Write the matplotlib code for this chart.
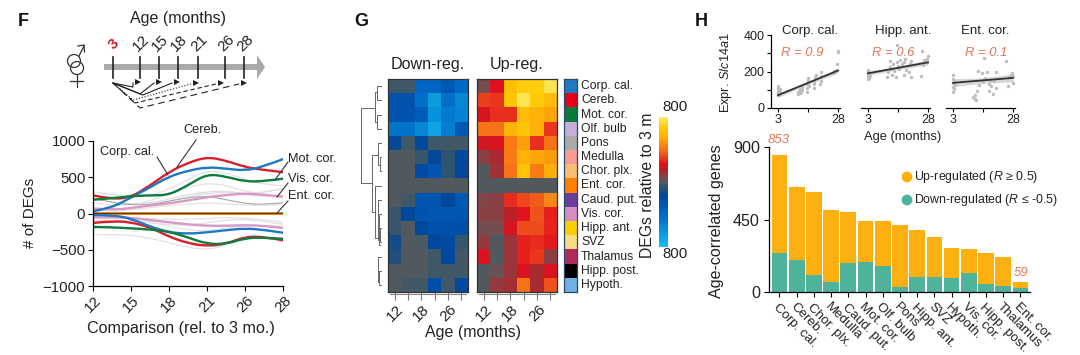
import numpy as np
import matplotlib
matplotlib.use('Agg')
import matplotlib.pyplot as plt
from matplotlib.colors import LinearSegmentedColormap, ListedColormap
from matplotlib.patches import Circle, Polygon, PathPatch
from matplotlib.path import Path

plt.rcParams['font.family'] = ['Liberation Sans', 'DejaVu Sans']
plt.rcParams['mathtext.fontset'] = 'custom'
plt.rcParams['mathtext.rm'] = 'Liberation Sans'
plt.rcParams['mathtext.it'] = 'Liberation Sans:italic'
plt.rcParams['axes.linewidth'] = 0.9

W, H = 1080, 355
TXT = '#222222'
ORANGE_TXT = '#e2755a'

# ---------- panel F data
comparisons = ['12', '15', '18', '21', '26', '28']
half_steps = [0, .5, 1, 1.5, 2, 2.5, 3, 3.5, 4, 4.5, 5]
cereb_up = [250, 195, 225, 385, 573, 700, 780, 730, 640, 600, 570]
corp_up = [30, 80, 220, 360, 510, 590, 640, 620, 590, 650, 750]
mot_up = [190, 210, 240, 250, 255, 390, 545, 510, 440, 445, 480]
vis_up = [70, 50, 75, 110, 140, 180, 225, 255, 275, 260, 230]
cereb_down = [-130, -105, -120, -190, -320, -410, -450, -420, -320, -320, -370]
corp_down = [-20, -20, -70, -180, -260, -280, -260, -230, -205, -225, -265]
mot_down = [-185, -190, -205, -220, -250, -330, -420, -420, -340, -330, -350]
vis_down = [-50, -50, -60, -90, -120, -150, -170, -170, -160, -170, -200]
ent_line = [0, 0, 0, 0, 0, 0, 0, 0, 0, 0, 0]
pale_lines = [
    [300, 260, 230, 250, 330, 470, 590, 560, 470, 400, 380],
    [150, 110, 120, 170, 280, 360, 420, 390, 300, 280, 350],
    [60, 40, 70, 120, 170, 230, 280, 290, 280, 290, 340],
    [210, 150, 130, 140, 200, 260, 300, 310, 270, 230, 260],
    [40, 30, 50, 80, 110, 130, 150, 130, 120, 110, 130],
    [-70, -60, -60, -70, -80, -80, -70, -60, -60, -90, -120],
    [-290, -290, -300, -340, -400, -470, -500, -440, -340, -320, -340],
    [-30, -30, -50, -110, -180, -230, -240, -200, -170, -160, -180],
    [-100, -90, -100, -130, -150, -160, -130, -90, -80, -110, -150],
]
pale_colors = ['#dde3e8', '#e6e0e8', '#e2dfdf', '#d9dde2', '#e8e2dc', '#e2e2e2', '#dfe3ea', '#e3e7e3', '#e6dde6']
pons_line = [210, 150, 120, 120, 170, 220, 240, 190, 140, 120, 150]

# ---------- panel G data
regions = ['Corp. cal.', 'Cereb.', 'Mot. cor.', 'Olf. bulb', 'Pons', 'Medulla', 'Chor. plx.', 'Ent. cor.',
           'Caud. put.', 'Vis. cor.', 'Hipp. ant.', 'SVZ', 'Thalamus', 'Hipp. post.', 'Hypoth.']
region_colors = ['#1f78c1', '#e2001a', '#0a7a3b', '#c5aed6', '#aaaaaa', '#fb9a92', '#fdbf6f', '#ff7f00',
                 '#6a3d9a', '#d48fc0', '#ffcc00', '#f5dc82', '#b02a5a', '#000000', '#6fb1e6']
down_reg = [
    [-30, -30, -380, -380, -300, -400],
    [-250, -250, -430, -650, -420, -550],
    [-260, -260, -320, -600, -480, -530],
    [-450, -450, -550, -680, -500, -300],
    [-150, -30, -180, -30, -30, -20],
    [0, 0, -40, -150, -60, -180],
    [0, 0, -200, -270, -60, -170],
    [0, 0, 0, 0, 0, 0],
    [0, -20, -280, -280, -170, -300],
    [-40, -170, -260, -280, -280, -270],
    [-40, 0, -170, -240, -240, -220],
    [-120, 0, -10, -170, -190, -50],
    [-90, 0, 0, -30, -170, -20],
    [0, 0, 0, -30, -20, -20],
    [0, -20, -20, -230, -20, -200],
]
up_reg = [
    [40, 220, 620, 680, 680, 770],
    [310, 290, 640, 780, 670, 610],
    [210, 280, 280, 600, 560, 520],
    [400, 400, 580, 640, 560, 290],
    [190, 210, 420, 510, 280, 400],
    [70, 130, 420, 560, 520, 500],
    [0, 110, 400, 640, 420, 550],
    [0, 0, 0, 0, 0, 0],
    [60, 70, 270, 320, 360, 450],
    [70, 70, 160, 230, 340, 250],
    [40, 40, 200, 330, 330, 260],
    [90, 0, 100, 250, 270, 240],
    [210, 0, 100, 250, 290, 80],
    [0, 30, 100, 210, 130, 210],
    [0, 90, 120, 400, 130, 340],
]
heat_labels = ['12', '', '18', '', '26', '']

# ---------- panel H data
panel_names = ['Corp. cal.', 'Hipp. ant.', 'Ent. cor.']
panel_r = ['R = 0.9', 'R = 0.6', 'R = 0.1']
corp_age = [3, 3, 3, 3, 3, 3, 3.5, 3.5, 4, 4, 11.5, 11.5, 12, 12, 12, 12.5, 13, 13, 15, 15, 15, 15.5, 15.5, 16, 18, 18, 18, 18.5, 19, 20.5, 21, 21, 21, 26, 26.5, 27, 27.5, 28, 28]
corp_expr = [70, 80, 90, 100, 110, 120, 75, 95, 85, 105, 75, 90, 80, 95, 105, 85, 100, 115, 90, 110, 130, 150, 165, 120, 110, 130, 150, 170, 180, 130, 150, 175, 200, 190, 205, 210, 240, 305, 310]
hipp_age = [3, 3, 3, 3, 3, 3.5, 3.5, 4, 11, 11.5, 12, 12, 12.5, 13, 13.5, 14, 14.5, 15, 15, 15.5, 16, 16.5, 17, 18, 18, 18.5, 19, 20, 20.5, 21, 21, 25, 25.5, 26, 26.5, 27, 27.5, 28]
hipp_expr = [160, 175, 190, 200, 210, 165, 185, 175, 170, 200, 225, 260, 215, 180, 240, 205, 170, 250, 345, 230, 215, 265, 240, 180, 250, 270, 210, 195, 240, 170, 260, 175, 310, 235, 265, 250, 270, 285]
ent_age = [3, 3, 3, 3, 3, 3.5, 3.5, 4, 11.5, 12, 12, 12.5, 13, 13.5, 14, 15, 15, 15.5, 16, 16.5, 17, 18, 18, 18.5, 19, 19.5, 20, 21, 21, 25, 26, 26.5, 27, 27.5, 28, 28]
ent_expr = [85, 115, 135, 160, 180, 105, 145, 125, 60, 50, 70, 45, 95, 205, 125, 190, 150, 145, 275, 165, 195, 130, 95, 155, 120, 75, 150, 110, 195, 260, 120, 170, 180, 190, 175, 135]
fit_age = [3, 28]
corp_fit = [70, 205]
hipp_fit = [190, 250]
ent_fit = [138, 165]
band_age = [3, 15.5, 28]
corp_band = [12, 8, 14]
hipp_band = [12, 9, 14]
ent_band = [22, 14, 22]

bar_names = ['Corp. cal.', 'Cereb.', 'Chor. plx.', 'Medulla', 'Caud. put.', 'Mot. cor.', 'Olf. bulb', 'Pons',
             'Hipp. ant.', 'SVZ', 'Hypoth.', 'Vis. cor.', 'Hipp. post.', 'Thalamus', 'Ent. cor.']
bar_total = [853, 650, 623, 511, 497, 441, 439, 416, 387, 342, 275, 265, 242, 215, 59]
bar_down = [242, 200, 103, 60, 180, 188, 161, 29, 95, 95, 87, 118, 50, 39, 27]


def px_axes(left, top, right, bottom):
    return fig.add_axes([left / W, 1 - bottom / H, (right - left) / W, (bottom - top) / H])


# curve through the read values, read values act as bezier control points
def curve(axis, xs, ys, color, lw):
    pts = np.column_stack([xs, ys])
    verts = [pts[0]]
    codes = [Path.MOVETO]
    for i in range(1, len(pts) - 1):
        end = pts[i + 1] if i == len(pts) - 2 else (pts[i] + pts[i + 1]) / 2
        verts += [pts[i], end]
        codes += [Path.CURVE3, Path.CURVE3]
    axis.add_patch(PathPatch(Path(verts, codes), fill=False, ec=color, lw=lw, capstyle='round'))


fig = plt.figure(figsize=(W / 100, H / 100), dpi=100)

# overlay in pixel coordinates for labels and the schematic
ov = fig.add_axes([0, 0, 1, 1], zorder=10)
ov.set_xlim(0, W)
ov.set_ylim(H, 0)
ov.axis('off')
ov.patch.set_alpha(0)

for letter, x, y in [('F', 23, 22), ('G', 361, 22), ('H', 701, 22)]:
    ov.text(x, y, letter, fontsize=13, fontweight='bold', ha='center', va='center', color='#111111')

# ---------- F schematic
ov.text(178, 19, 'Age (months)', fontsize=11.5, ha='center', va='center', color=TXT)
ov.add_patch(Polygon([(104, 64), (257, 64), (257, 55), (265, 67), (257, 79), (257, 70), (104, 70)],
                     closed=True, color='#aaaaaa', lw=0))
schema_x = [113, 140, 159, 178, 198, 225, 244]
schema_lab = ['3', '12', '15', '18', '21', '26', '28']
for i, (x, lab) in enumerate(zip(schema_x, schema_lab)):
    ov.plot([x, x], [57, 78], color='#222222', lw=1.2)
    if i == 0:
        ov.text(x + 1, 44, lab, fontsize=11, color='#c8202c', fontweight='bold', rotation=45,
                ha='center', va='center')
    else:
        ov.text(x + 1, 43, lab, fontsize=11, color=TXT, rotation=45, ha='center', va='center')

arrow_paths = [((133, 87), (138, 82), '-'), ((140, 94), (159, 82), '-'), ((143, 95), (177, 82), '-'),
               ((133, 100), (196, 83), ':'), ((135, 103), (221, 83), (0, (4, 2.5))), ((140, 108), (244, 83), (0, (6, 4)))]
for (ex, ey), (tx, ty), ls in arrow_paths:
    ov.plot([113, ex, tx - 5], [83, ey, ty + 1], color='#222222', lw=0.8, ls=ls)
    ov.plot([tx], [ty], marker='>', ms=4.5, color='#222222', mew=0)

ov.add_patch(Circle((74, 61), 6.5, fill=False, ec='#333333', lw=0.9))
ov.add_patch(Circle((77, 68), 6.5, fill=False, ec='#333333', lw=0.9))
ov.plot([79, 84], [56, 46], color='#333333', lw=0.9)
ov.plot([78, 84, 84.5], [46, 45, 52], color='#333333', lw=0.9)
ov.plot([76.5, 76.5], [75, 87], color='#333333', lw=0.9)
ov.plot([70, 83], [81, 81], color='#333333', lw=0.9)

# ---------- F lines
ax = px_axes(93, 141, 283, 286)
for vals, c in zip(pale_lines, pale_colors):
    curve(ax, half_steps, vals, c, 0.9)
curve(ax, half_steps, pons_line, '#a8a8a8', 0.8)
for vals, c, lw in [(vis_up, '#d79ac6', 1.7), (vis_down, '#d79ac6', 1.7), (ent_line, '#e07b10', 2.0),
                    (cereb_up, '#d7202a', 1.7), (corp_up, '#1f78c1', 1.7), (mot_up, '#117a3e', 1.7),
                    (cereb_down, '#d7202a', 1.7), (corp_down, '#1f78c1', 1.7), (mot_down, '#117a3e', 1.7)]:
    curve(ax, half_steps, vals, c, lw)
curve(ax, half_steps, ent_line, '#5a3a10', 0.7)
ax.set_xlim(0, 5)
ax.set_ylim(-1000, 1000)
ax.set_xticks(range(6))
ax.set_xticklabels(comparisons, rotation=45, fontsize=10.8, color=TXT, ha='center')
ax.set_yticks([-1000, -500, 0, 500, 1000])
ax.set_yticklabels(['\u22121000', '\u2212500', '0', '500', '1000'], fontsize=10.8, color=TXT)
ax.tick_params(length=3.5, width=0.8, pad=2)
ax.spines[['top', 'right']].set_visible(False)
ax.patch.set_alpha(0)

ov.text(181, 329, 'Comparison (rel. to 3 mo.)', fontsize=11.6, ha='center', va='center', color=TXT)
ov.text(30, 213, '# of DEGs', fontsize=11, rotation=90, ha='center', va='center', color=TXT)
ov.text(127.5, 152, 'Corp. cal.', fontsize=9.2, ha='center', va='center', color=TXT)
ov.text(203, 130, 'Cereb.', fontsize=9.2, ha='center', va='center', color=TXT)
for txt, y in [('Mot. cor.', 159), ('Vis. cor.', 179), ('Ent. cor.', 196)]:
    ov.text(288, y, txt, fontsize=9.2, ha='left', va='center', color=TXT)
for (x0, y0), (x1, y1) in [((157, 157), (168, 175)), ((196, 140), (177, 167)), ((288, 162), (275, 180)),
                           ((288, 183), (277, 197)), ((288, 201), (277, 213))]:
    ov.plot([x0, x1], [y0, y1], color='#333333', lw=0.8)

# ---------- G heatmaps
cmap = LinearSegmentedColormap.from_list('degs', [
    (0.00, '#20bdec'), (0.10, '#0a9be0'), (0.28, '#0060c0'), (0.40, '#00479a'), (0.47, '#34566e'),
    (0.50, '#4f5b60'), (0.53, '#7c4a4e'), (0.60, '#bb2026'), (0.64, '#e2101f'), (0.74, '#f56a1a'),
    (0.84, '#ffad08'), (0.92, '#ffcb08'), (1.00, '#ffea60')])

for vals, (l, r), title in [(down_reg, (388, 468), 'Down-reg.'), (up_reg, (477, 557), 'Up-reg.')]:
    hx = px_axes(l, 79, r, 292)
    hx.imshow(np.array(vals), cmap=cmap, vmin=-800, vmax=800, aspect='auto', interpolation='nearest')
    hx.set_xticks(range(6))
    hx.set_xticklabels(heat_labels, rotation=45, fontsize=11, color=TXT)
    hx.set_yticks([])
    hx.tick_params(length=6, width=0.8, color='#777777', pad=1)
    for s in hx.spines.values():
        s.set_color('#333333')
    ov.plot([l + 2, r - 2], [294, 294], color='#888888', lw=0.8)
    ov.text((l + r) / 2, 65, title, fontsize=11.6, ha='center', va='center', color=TXT)
ov.text(473, 333, 'Age (months)', fontsize=11.5, ha='center', va='center', color=TXT)

# dendrogram, drawn as brackets: x, y top, y bottom, x of top child, x of bottom child
row_y = [79 + 14.2 * (i + .5) for i in range(15)]
brackets = [
    (361, 107.7, 183.3, 375, 372),
    (375, 92, 122, 377, 377),
    (377, row_y[0], row_y[1], 381, 381),
    (377, row_y[2], row_y[3], 381, 381),
    (372, 155, 212, 378, 375),
    (378, row_y[4], 165, 381, 380),
    (380, row_y[5], row_y[6], 381, 381),
    (375, row_y[7], 238, 381, 378),
    (378, row_y[8], 240, 381, 379),
    (379, row_y[9], 245, 381, 380),
    (380, row_y[10], row_y[11], 381, 381),
    (378, row_y[12], 282, 381, 379),
    (379, row_y[13], row_y[14], 381, 381),
]
for x, y0, y1, xa, xb in brackets:
    ov.plot([xa, x, x, xb], [y0, y0, y1, y1], color='#666666', lw=0.7)

sw = px_axes(564, 79, 577, 292)
sw.imshow(np.arange(15).reshape(-1, 1), cmap=ListedColormap(region_colors), aspect='auto', interpolation='nearest')
sw.set_xticks([])
sw.set_yticks([])
for s in sw.spines.values():
    s.set_color('#2a4a6a')
for i, name in enumerate(regions):
    ov.text(581, row_y[i], name, fontsize=8.7, ha='left', va='center', color=TXT)

cb = px_axes(659, 117, 668, 247)
cb.imshow(np.linspace(800, -800, 256).reshape(-1, 1), cmap=cmap, vmin=-800, vmax=800, aspect='auto')
cb.axis('off')
ov.text(675, 107, '800', fontsize=10.8, ha='center', va='center', color=TXT)
ov.text(675, 254, '800', fontsize=10.8, ha='center', va='center', color=TXT)
ov.text(648, 185, 'DEGs relative to 3 m', fontsize=11.3, rotation=90, ha='center', va='center', color=TXT)

# ---------- H scatter
panels = [
    (778, corp_age, corp_expr, corp_fit, corp_band, 0),
    (868, hipp_age, hipp_expr, hipp_fit, hipp_band, 1),
    (953, ent_age, ent_expr, ent_fit, ent_band, 2),
]
for x3, ages, expr, fit, band, i in panels:
    sx = px_axes(x3 - 7, 35, x3 + 62, 108)
    sx.set_xlim(3 - 7 / 2.4, 3 + 62 / 2.4)
    sx.set_ylim(0, 400)
    sx.scatter(ages, expr, s=6, color='#bdbdbd', lw=0, zorder=2)
    fit_mid = (fit[0] + fit[1]) / 2
    band_fit = [fit[0], fit_mid, fit[1]]
    sx.fill_between(band_age, np.array(band_fit) - band, np.array(band_fit) + band,
                    color='#bbbbbb', alpha=0.6, lw=0, zorder=1)
    sx.plot(fit_age, fit, color='#333333', lw=1.3, zorder=3)
    sx.set_xticks([3, 15.5, 28])
    sx.set_xticklabels(['3', '', '28'], fontsize=9, color=TXT)
    sx.set_yticks([0, 100, 200, 300, 400])
    sx.set_yticklabels(['0', '', '200', '', '400'], fontsize=9, color=TXT)
    sx.tick_params(length=3, width=0.8, pad=1.5)
    sx.spines[['top', 'right']].set_visible(False)
    if i > 0:
        sx.spines['left'].set_visible(False)
        sx.set_yticks([])
    sx.patch.set_alpha(0)
    ov.text([810, 903, 985][i], 31, panel_names[i], fontsize=9.5, ha='center', va='center', color=TXT)
    ov.text([802, 893, 986][i], 53.5, panel_r[i], fontsize=9.4, style='italic', ha='center', va='center', color=ORANGE_TXT)

ov.text(726, 73, 'Expr. $\\mathit{Slc14a1}$', fontsize=9.2, rotation=90, ha='center', va='center', color=TXT)
ov.text(903, 137, 'Age (months)', fontsize=9.3, ha='center', va='center', color=TXT)

# ---------- H bars
bx = px_axes(769, 147, 1030, 292)
pos = np.arange(len(bar_names))
bx.bar(pos, bar_total, width=0.91, color='#fdb00f', lw=0)
bx.bar(pos, bar_down, width=0.91, color='#4fb39b', lw=0)
bx.set_xlim(-0.61, 14.56)
bx.set_ylim(0, 900)
bx.set_yticks([0, 450, 900])
bx.set_yticklabels(['0', '450', '900'], fontsize=11.6, color=TXT)
bx.set_xticks(pos)
bx.set_xticklabels(bar_names, rotation=-45, ha='left', va='top', rotation_mode='anchor', fontsize=9.5, color=TXT)
bx.tick_params(length=3.5, width=0.8, pad=3)
bx.spines[['top', 'right']].set_visible(False)
bx.patch.set_alpha(0)

ov.text(779, 140, '853', fontsize=9.5, style='italic', ha='center', va='center', color=ORANGE_TXT)
ov.text(1021, 273, '59', fontsize=9.5, style='italic', ha='center', va='center', color=ORANGE_TXT)
ov.text(717, 221, 'Age-correlated genes', fontsize=11.6, rotation=90, ha='center', va='center', color=TXT)
ov.scatter([907, 907], [177, 200], s=60, color=['#fdb00f', '#4fb39b'], lw=0)
ov.text(914, 177, 'Up-regulated ($\\mathit{R}$ \u2265 0.5)', fontsize=8.9, ha='left', va='center', color=TXT)
ov.text(914, 200, 'Down-regulated ($\\mathit{R}$ \u2264 -0.5)', fontsize=8.9, ha='left', va='center', color=TXT)

fig.savefig('out.png', dpi=100)
